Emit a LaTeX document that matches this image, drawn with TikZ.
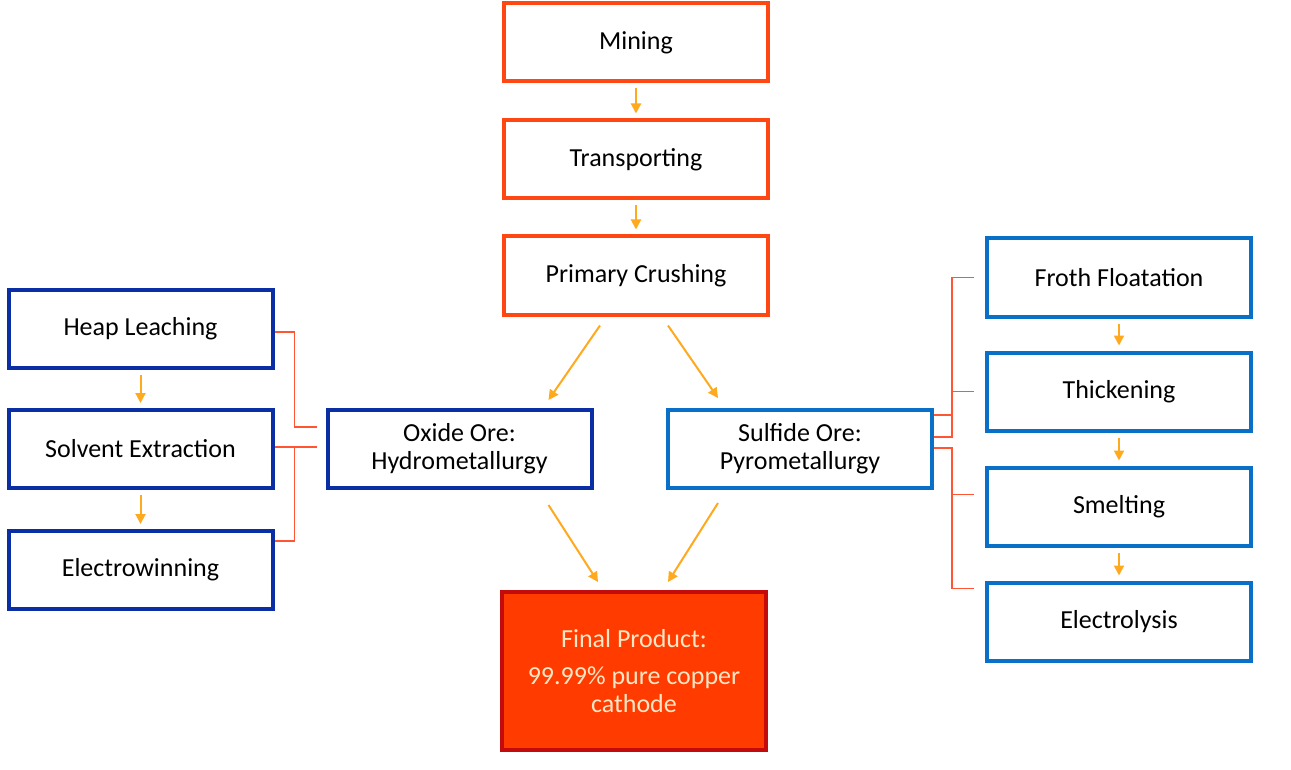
\documentclass[tikz,border=0pt]{standalone}
\usepackage{fontspec}
\setmainfont{Carlito}
\usetikzlibrary{positioning,calc,arrows.meta}
\definecolor{minered}{HTML}{FF4713}
\definecolor{hydroblue}{HTML}{0A2EA3}
\definecolor{pyroblue}{HTML}{0A6FC6}
\definecolor{arrowgold}{HTML}{FFA91F}
\definecolor{linkred}{HTML}{FF5533}
\definecolor{productfill}{HTML}{FF3B00}
\definecolor{productedge}{HTML}{C30B0B}
\definecolor{producttext}{HTML}{FFE6C4}
\tikzstyle{stage}=[draw=#1,line width=4pt,minimum width=264pt,minimum height=78pt,inner sep=0pt,align=center,font=\fontsize{26}{28}\selectfont]
\tikzstyle{flowarrow}=[arrowgold,line width=2pt,-{Triangle[width=10pt,length=10pt]},shorten <=5pt,shorten >=5pt]
\tikzstyle{link}=[linkred,line width=1.6pt]
\newcommand{\procbox}[4]{\node[stage=#1,#3] (#2) {#4};}
\newcommand{\myarrow}[2]{\draw[flowarrow] (#1) -- (#2);}

\begin{document}
\begin{tikzpicture}[x=1pt,y=-1pt]
    \useasboundingbox (0,0) rectangle (1291,770);
    % main line
    \procbox{minered}{mining}{at={(636,42.5)}}{Mining}
    \procbox{minered}{transporting}{below=35pt of mining}{Transporting}
    \procbox{minered}{crushing}{below=34pt of transporting}{Primary Crushing}
    \myarrow{mining}{transporting}
    \myarrow{transporting}{crushing}

    % oxide ore
    \procbox{hydroblue}{oxide}{at={(459.5,449)}}{Oxide Ore:\\Hydrometallurgy}
    \procbox{hydroblue}{solvent}{at={(140.5,449)}}{Solvent Extraction}
    \procbox{hydroblue}{heap}{above=38pt of solvent}{Heap Leaching}
    \procbox{hydroblue}{electro}{below=39pt of solvent}{Electrowinning}
    \myarrow{heap}{solvent}
    \myarrow{solvent}{electro}

    % sulfide ore
    \procbox{pyroblue}{sulfide}{at={(800,449)}}{Sulfide Ore:\\Pyrometallurgy}
    \procbox{pyroblue}{froth}{at={(1119,277.5)}}{Froth Floatation}
    \procbox{pyroblue}{thick}{below=32pt of froth}{Thickening}
    \procbox{pyroblue}{smelt}{below=33pt of thick}{Smelting}
    \procbox{pyroblue}{electrolysis}{below=33pt of smelt}{Electrolysis}
    \myarrow{froth}{thick}
    \myarrow{thick}{smelt}
    \myarrow{smelt}{electrolysis}

    % final product
    \node[stage=productedge,fill=productfill,text=producttext,minimum height=158pt,at={(634,671)}] (final) {Final Product:\\[9pt]99.99\% pure copper\\cathode};

    % split and merge
    \draw[flowarrow,shorten <=0pt,shorten >=0pt] ($(crushing.south)+(-36,9)$) -- ($(oxide.north)+(89,-8)$);
    \draw[flowarrow,shorten <=0pt,shorten >=0pt] ($(crushing.south)+(32,9)$) -- ($(sulfide.north)+(-82,-10)$);
    \draw[flowarrow,shorten <=0pt,shorten >=0pt] ($(oxide.south)+(89,15)$) -- ($(final.north)+(-36,-8)$);
    \draw[flowarrow,shorten <=0pt,shorten >=0pt] ($(sulfide.south)+(-82,13)$) -- ($(final.north)+(34,-8)$);

    % brackets left
    \coordinate (ol) at ($(oxide.west)+(-31,0)$);
    \draw[link] ([yshift=-3pt]heap.east) -| ([yshift=22pt]ol) -- ([xshift=-9pt,yshift=22pt]oxide.west);
    \draw[link] ([yshift=2pt]solvent.east) -- ([xshift=-9pt,yshift=2pt]oxide.west);
    \draw[link] ([yshift=29pt]electro.east) -| ([yshift=2pt]ol);

    % brackets right
    \coordinate (sr) at ($(sulfide.east)+(18,0)$);
    \draw[link] ([xshift=-11pt]froth.west) -| ([yshift=12pt]sr) -- ([yshift=12pt]sulfide.east);
    \draw[link] ([yshift=34pt]sulfide.east) -- ([yshift=34pt]sr);
    \draw[link] ([xshift=-11pt]thick.west) -- (thick.west -| sr);
    \draw[link] ([yshift=1pt]sulfide.east) -- ([yshift=1pt]sr) |- ([xshift=-11pt,yshift=33pt]electrolysis.west);
    \draw[link] ([yshift=12pt]smelt.west -| sr) -- ([xshift=-11pt,yshift=12pt]smelt.west);
\end{tikzpicture}
\end{document}
